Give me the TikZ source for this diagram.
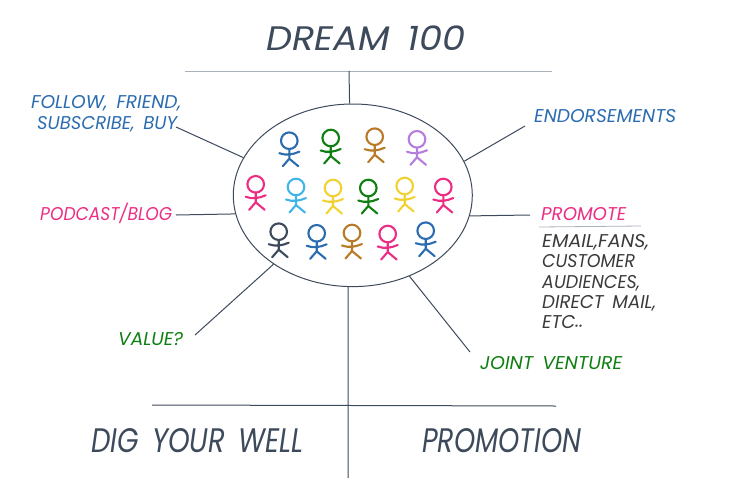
\documentclass[tikz,border=0pt]{standalone}
\usepackage{graphicx}
\usepackage{fontspec}
\usetikzlibrary{shapes.geometric}
\setmainfont{Poppins}[ItalicFont=* Italic,WordSpace=1.6]
\definecolor{ink}{HTML}{3D4A5C}
\definecolor{rulegray}{HTML}{A9B1BC}
\definecolor{txtgray}{HTML}{3A3A3A}
\definecolor{cblue}{HTML}{2B6CB0}
\definecolor{cpink}{HTML}{EC2D84}
\definecolor{cgreen}{HTML}{0F7F12}
\definecolor{corange}{HTML}{B87A26}
\definecolor{cpurple}{HTML}{B57EDC}
\definecolor{ccyan}{HTML}{3FB5E8}
\definecolor{cyellow}{HTML}{F2D233}
\newcommand{\fitw}[2]{\resizebox{#1pt}{\height}{\itshape #2}}
\newcommand{\stick}[3]{%
  \draw[figline,#3] (#1,#2) circle[radius=8.3];
  \draw[figline,#3] (#1,#2+8.5) -- (#1,#2+18)
    (#1-10,#2+12.5) .. controls (#1-3,#2+15) and (#1+3,#2+14) .. (#1+10,#2+11)
    (#1-6.5,#2+25.5) -- (#1,#2+18) -- (#1+9,#2+25.5);}
\tikzset{
  x=1pt,y=-1pt,
  spoke/.style={draw=ink,line width=1pt},
  lightrule/.style={draw=rulegray,line width=0.8pt},
  figline/.style={line width=2.1pt,line cap=round,line join=round},
  lbl/.style={anchor=base west,inner sep=0pt,font=\fontsize{18.5}{18.5}\selectfont},
  bigl/.style={anchor=base west,inner sep=0pt,font=\fontsize{34}{34}\selectfont,text=ink},
}
\begin{document}
\begin{tikzpicture}
\useasboundingbox (0,0) rectangle (750,496);
% ellipse
\node[draw=ink,line width=1pt,ellipse,minimum width=239pt,minimum height=182.6pt,inner sep=0pt] (hub) at (352.8,195.3) {};
% texts
\node[bigl] (title) at (266,50) {\fitw{199}{DREAM 100}};
\node[bigl] (dig) at (91,452) {\fitw{212}{DIG YOUR WELL}};
\node[bigl] (promo) at (422,452) {\fitw{159}{PROMOTION}};
\node[lbl,text=cblue] (follow) at (31,108) {\fitw{150}{FOLLOW, FRIEND,}};
\node[lbl,text=cblue] (subscribe) at (37,129) {\fitw{140}{SUBSCRIBE, BUY}};
\node[lbl,text=cpink] (podcast) at (40,220) {\fitw{132}{PODCAST/BLOG}};
\node[lbl,text=cblue] (endorse) at (534,122) {\fitw{142}{ENDORSEMENTS}};
\node[lbl,text=cpink] (promote) at (541,220) {\fitw{85}{PROMOTE}};
\node[lbl,text=txtgray] (email) at (542,247) {\fitw{107}{EMAIL,FANS,}};
\node[lbl,text=txtgray] (customer) at (542,267) {\fitw{93}{CUSTOMER}};
\node[lbl,text=txtgray] (audiences) at (542,288) {\fitw{98}{AUDIENCES,}};
\node[lbl,text=txtgray] (direct) at (542,308) {\fitw{114}{DIRECT MAIL,}};
\node[lbl,text=txtgray] (etc) at (542,328) {\fitw{41}{ETC\raisebox{-0.22em}{··}}};
\node[lbl,text=cgreen] (joint) at (480,369) {\fitw{142}{JOINT VENTURE}};
\node[lbl,text=cgreen] (value) at (118,345) {\fitw{65}{VALUE?}};
% free ends
\coordinate (tl) at (185,71);
\coordinate (tr) at (552,71);
\coordinate (tm) at (349,71);
\coordinate (bl) at (152,405);
\coordinate (br) at (556,406);
\coordinate (bb) at (348,478);
\coordinate (pl) at (539,227);
\coordinate (pr) at (641,226);
\coordinate (s1) at (176,127);
\coordinate (s2) at (176,215);
\coordinate (s3) at (195,335);
\coordinate (s4) at (470,352);
\coordinate (s5) at (530,215);
\coordinate (s6) at (525,126);
% rules
\draw[lightrule] (tl) -- (tr);
\draw[lightrule] (pl) -- (pr);
\draw[spoke] (tm) -- (hub.92.4);
\draw[spoke] (hub.267.6) -- (bb);
\draw[spoke] (bl) -- (br);
\draw[spoke] (s1) -- (hub.161.4);
\draw[spoke] (s2) -- (hub.189.2);
\draw[spoke] (s3) -- (hub.221.7);
\draw[spoke] (s4) -- (hub.305.8);
\draw[spoke] (s5) -- (hub.350);
\draw[spoke] (s6) -- (hub.17.1);
% people
\stick{289.3}{140.7}{cblue}
\stick{330.7}{138}{cgreen}
\stick{374.7}{136.7}{corange}
\stick{417}{139.3}{cpurple}
\stick{255.7}{184.3}{cpink}
\stick{296}{187}{ccyan}
\stick{333}{188}{cyellow}
\stick{368.3}{188}{cgreen}
\stick{404.7}{186}{cyellow}
\stick{443.3}{187}{cpink}
\stick{278.7}{231.7}{ink}
\stick{316.7}{233.3}{cblue}
\stick{352}{233}{corange}
\stick{387.7}{234}{cpink}
\stick{425.7}{230.7}{cblue}
\end{tikzpicture}
\end{document}
